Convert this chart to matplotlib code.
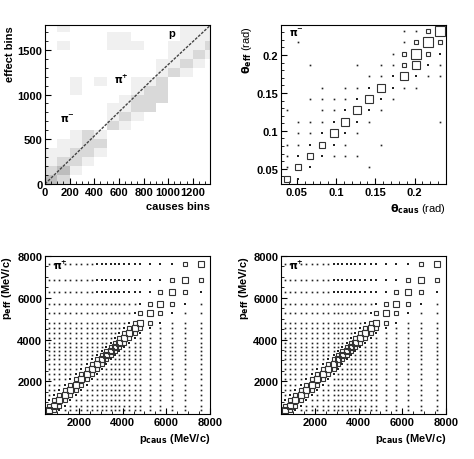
import numpy as np
import matplotlib
matplotlib.use("Agg")
import matplotlib.pyplot as plt
from matplotlib.ticker import AutoMinorLocator

plt.rcParams['font.family'] = ['Liberation Sans', 'DejaVu Sans']
plt.rcParams['font.weight'] = 'bold'
plt.rcParams['mathtext.default'] = 'bf'

# --- top-left: response matrix in bins (coarse grey density, 100-bin cells)
bins_x_edges = [0, 100, 200, 300, 400, 500, 600, 700, 800, 900, 1000, 1100, 1200, 1300, 1400]
bins_y_edges = [0, 100, 200, 300, 400, 500, 600, 700, 800, 900, 1000, 1100, 1200, 1300,
                1400, 1500, 1600, 1700, 1800]
bins_density = [
    "32000000000000",
    "23100000000000",
    "12210000000000",
    "11221000000000",
    "01122000000000",
    "00121000000000",
    "00000210000000",
    "00000121000000",
    "00000112200000",
    "00000012220000",
    "00100001220000",
    "00101001120000",
    "00000000012100",
    "00000000011210",
    "00000000001121",
    "01000111001112",
    "00000110000111",
    "01000000000111",
]
diag_x = [0, 440, 880, 1340]
diag_y = [0, 590, 1180, 1770]

# --- top-right: theta response (14 bins)
theta_bins = [0.037, 0.052, 0.067, 0.082, 0.097, 0.112, 0.127, 0.142, 0.157, 0.172,
              0.187, 0.202, 0.217, 0.232]
theta_mat = [
    "42000000000000",
    "14200001000000",
    "12421110000000",
    "11242100100000",
    "01125210000000",
    "01112521000001",
    "10011252100000",
    "00111125210000",
    "00010112621100",
    "00000001126211",
    "00100010113621",
    "00000000013732",
    "01000000001373",
    "00000000001137",
]

# --- bottom: momentum response (24 bins)
p_bins = [650, 850, 1100, 1350, 1600, 1850, 2100, 2350, 2600, 2850, 3050, 3250, 3450,
          3650, 3850, 4050, 4300, 4550, 4800, 5250, 5700, 6250, 6850, 7600]
p_mat = [
    "432111111111111111111111",
    "343211111111111111111111",
    "234321111111111111111111",
    "123432111111111111111111",
    "112343211111111111111111",
    "111234321111111111111111",
    "111123432111111111111111",
    "111112343211111111111111",
    "111111234321111111111111",
    "111111123432111111111111",
    "111111112343211111111111",
    "111111111234321111111111",
    "111111111123432111111111",
    "111111111112343211111111",
    "111111111111234321111111",
    "111111111111123432111111",
    "111111111111112343211111",
    "111111111111111234321111",
    "111111111111111123432111",
    "111111111111111112343211",
    "111111111111111111234321",
    "111111111222222222223432",
    "111111111222222222222343",
    "111111111222222222222234",
]

sizes = {1: 1.2, 2: 2.0, 3: 2.9, 4: 4.0, 5: 5.2, 6: 6.3, 7: 7.5}


def boxes(ax, xs, ys, mat):
    for i, row in enumerate(mat):
        for j, ch in enumerate(row):
            v = int(ch)
            if v == 0:
                continue
            if v <= 2:
                ax.plot(xs[j], ys[i], 's', ms=sizes[v], color='#222222', mew=0)
            else:
                ax.plot(xs[j], ys[i], 's', ms=sizes[v], mfc='none', mec='#333333', mew=0.8)


def style(ax):
    ax.tick_params(direction='in', which='both', top=False, right=False, labelsize=8, length=4, pad=2)
    ax.tick_params(which='minor', length=2)
    ax.xaxis.set_minor_locator(AutoMinorLocator())
    ax.yaxis.set_minor_locator(AutoMinorLocator())
    for lab in ax.get_xticklabels() + ax.get_yticklabels():
        lab.set_fontweight('bold')


fig = plt.figure(figsize=(4.74, 4.6), dpi=100)
ax1 = fig.add_axes([0.095, 0.598, 0.348, 0.346])
ax2 = fig.add_axes([0.593, 0.598, 0.348, 0.346])
ax3 = fig.add_axes([0.095, 0.098, 0.348, 0.344])
ax4 = fig.add_axes([0.593, 0.098, 0.348, 0.344])

dens = np.array([[int(c) for c in r] for r in bins_density])
ax1.pcolormesh(bins_x_edges, bins_y_edges, dens, cmap='Greys', vmin=0, vmax=8)
ax1.plot(diag_x, diag_y, color='#444444', lw=1.0, ls=(0, (2, 1)))
ax1.set_xlim(0, 1340)
ax1.set_ylim(0, 1780)
ax1.set_xticks([0, 200, 400, 600, 800, 1000, 1200])
ax1.set_yticks([0, 500, 1000, 1500])
ax1.set_xlabel("causes bins", fontsize=8, fontweight='bold', loc='right', labelpad=3)
ax1.set_ylabel("effect bins", fontsize=8, fontweight='bold', loc='top', labelpad=2)
ax1.text(120, 690, r"$\pi^{-}$", fontsize=7)
ax1.text(560, 1130, r"$\pi^{+}$", fontsize=7)
ax1.text(1000, 1650, "p", fontsize=8, fontweight='bold')
style(ax1)

boxes(ax2, theta_bins, theta_bins, theta_mat)
ax2.set_xlim(0.03, 0.24)
ax2.set_ylim(0.03, 0.24)
ax2.set_xticks([0.05, 0.1, 0.15, 0.2])
ax2.set_xticklabels(["0.05", "0.1", "0.15", "0.2"])
ax2.set_yticks([0.05, 0.1, 0.15, 0.2])
ax2.set_yticklabels(["0.05", "0.1", "0.15", "0.2"])
ax2.set_xlabel(r"$\theta_{caus}$ (rad)", fontsize=8, loc='right', labelpad=3)
ax2.set_ylabel(r"$\theta_{eff}$ (rad)", fontsize=8, loc='top', labelpad=2)
ax2.text(0.04, 0.225, r"$\pi^{-}$", fontsize=7)
style(ax2)

for ax in (ax3, ax4):
    boxes(ax, p_bins, p_bins, p_mat)
    ax.set_xlim(450, 8000)
    ax.set_ylim(450, 8000)
    ax.set_xticks([2000, 4000, 6000, 8000])
    ax.set_yticks([2000, 4000, 6000, 8000])
    ax.set_xlabel(r"p$_{caus}$ (MeV/c)", fontsize=8, fontweight='bold', loc='right', labelpad=3)
    ax.set_ylabel(r"p$_{eff}$ (MeV/c)", fontsize=8, fontweight='bold', loc='top', labelpad=2)
    ax.text(800, 7350, r"$\pi^{+}$", fontsize=7)
    style(ax)

fig.savefig("out.png", dpi=100)
